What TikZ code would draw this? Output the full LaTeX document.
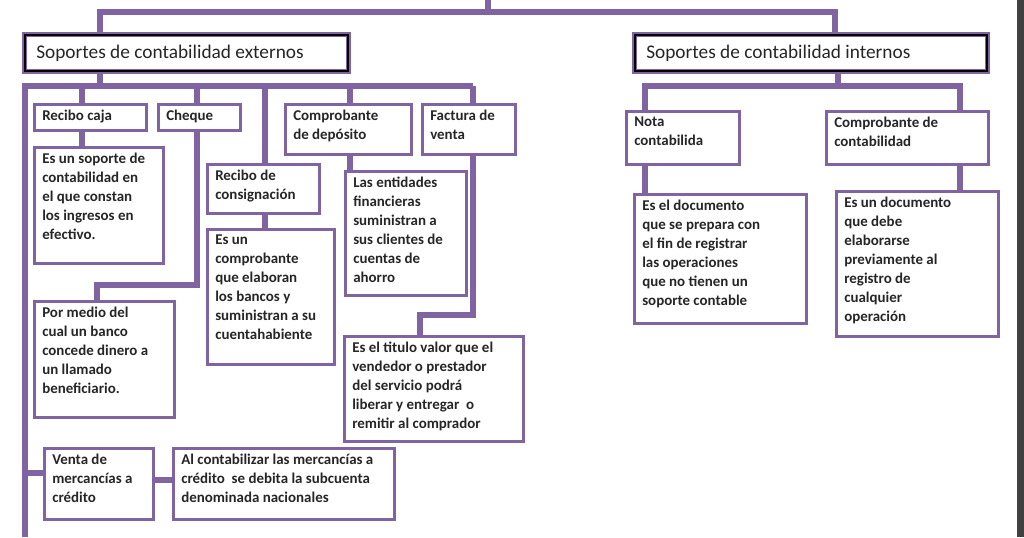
\documentclass[tikz,border=0pt]{standalone}
\usepackage{fontspec}
\setmainfont{Carlito}
\usetikzlibrary{calc}
\definecolor{pur}{RGB}{128,100,162}
\tikzset{
  conn/.style={draw=pur,line width=3.8pt},
  box/.style={draw=pur,line width=2.4pt,fill=white,inner sep=0pt,anchor=north west},
  txt/.style={anchor=north west,align=left,inner sep=0pt,font=\fontsize{11.2}{14.2}\selectfont\bfseries\color{black!85}},
  head/.style={anchor=west,inner sep=0pt,font=\fontsize{14.5}{16}\selectfont\color{black!85}}
}
\newcommand{\bx}[6]{%
  \node[box,minimum width={(#4-#2)*0.75pt},minimum height={(#5-#3)*0.75pt}] (#1) at (#2,#3) {};
  \node[txt] (#1t) at ($(#1.north west)+(9,7)$) {#6};}
\begin{document}
\begin{tikzpicture}[x=0.75pt,y=-0.75pt]
\useasboundingbox (0,0) rectangle (1024,537);
\fill[white] (0,0) rectangle (1024,537);
\fill[black!75] (1017,0) rectangle (1024,537);
% connectors
\draw[conn] (488,0) -- (488,12);
\draw[conn] (100,32) -- (100,12) -- (835,12) -- (835,32);
\draw[conn] (100,68) -- (100,86);
\draw[conn] (25,537) -- (25,86) -- (473,86);
\draw[conn] (82,86) -- (82,146);
\draw[conn] (197,86) -- (197,285) -- (97,285) -- (97,300);
\draw[conn] (265,86) -- (265,228);
\draw[conn] (350,86) -- (350,170);
\draw[conn] (473,86) -- (473,315) -- (420,315) -- (420,335);
\draw[conn] (25,473) -- (43,473);
\draw[conn] (152,480) -- (172,480);
\draw[conn] (838,68) -- (838,86);
\draw[conn] (645,110) -- (645,86) -- (960,86) -- (960,190);
\draw[conn] (645,163) -- (645,193);
% header boxes
\node[box,line width=4pt,minimum width={324*0.75pt},minimum height={37*0.75pt}] (ext) at (22,32) {};
\draw[black,line width=1.3pt] ($(ext.north west)+(3,3)$) rectangle ($(ext.south east)+(-3,-3)$);
\node[head] (extt) at ($(ext.west)+(14,0)$) {Soportes de contabilidad externos};
\node[box,line width=4pt,minimum width={353*0.75pt},minimum height={37*0.75pt}] (int) at (632,32) {};
\draw[black,line width=1.3pt] ($(int.north west)+(3,3)$) rectangle ($(int.south east)+(-3,-3)$);
\node[head] (intt) at ($(int.west)+(14,0)$) {Soportes de contabilidad internos};
% boxes
\bx{rc}{33}{103}{145}{129}{Recibo caja}
\bx{ch}{157}{103}{239}{129}{Cheque}
\bx{cd}{284}{103}{410}{153}{Comprobante\\de depósito}
\bx{fv}{421}{103}{514}{153}{Factura de\\venta}
\bx{rcd}{33}{146}{162}{262}{Es un soporte de\\contabilidad en\\el que constan\\los ingresos en\\efectivo.}
\bx{rcon}{206}{163}{318}{212}{Recibo de\\consignación}
\bx{cdd}{344}{170}{465}{294}{Las entidades\\financieras\\suministran a\\sus clientes de\\cuentas de\\ahorro}
\bx{rcond}{206}{228}{333}{363}{Es un\\comprobante\\que elaboran\\los bancos y\\suministran a su\\cuentahabiente}
\bx{chd}{33}{300}{173}{416}{Por medio del\\cual un banco\\concede dinero a\\un llamado\\beneficiario.}
\bx{fvd}{343}{335}{522}{440}{Es el titulo valor que el\\vendedor o prestador\\del servicio podrá\\liberar y entregar\ \ o\\remitir al comprador}
\bx{vm}{43}{447}{152}{518}{Venta de\\mercancías a\\crédito}
\bx{vmd}{172}{447}{393}{518}{Al contabilizar las mercancías a\\crédito\ \ se debita la subcuenta\\denominada nacionales}
\bx{nc}{625}{110}{738}{163}{Nota\\contabilida}
\bx{cc}{825}{110}{987}{163}{Comprobante de\\contabilidad}
\bx{ncd}{633}{193}{805}{322}{Es el documento\\que se prepara con\\el fin de registrar\\las operaciones\\que no tienen un\\soporte contable}
\bx{ccd}{835}{190}{997}{335}{Es un documento\\que debe\\elaborarse\\previamente al\\registro de\\cualquier\\operación}
\end{tikzpicture}
\end{document}
